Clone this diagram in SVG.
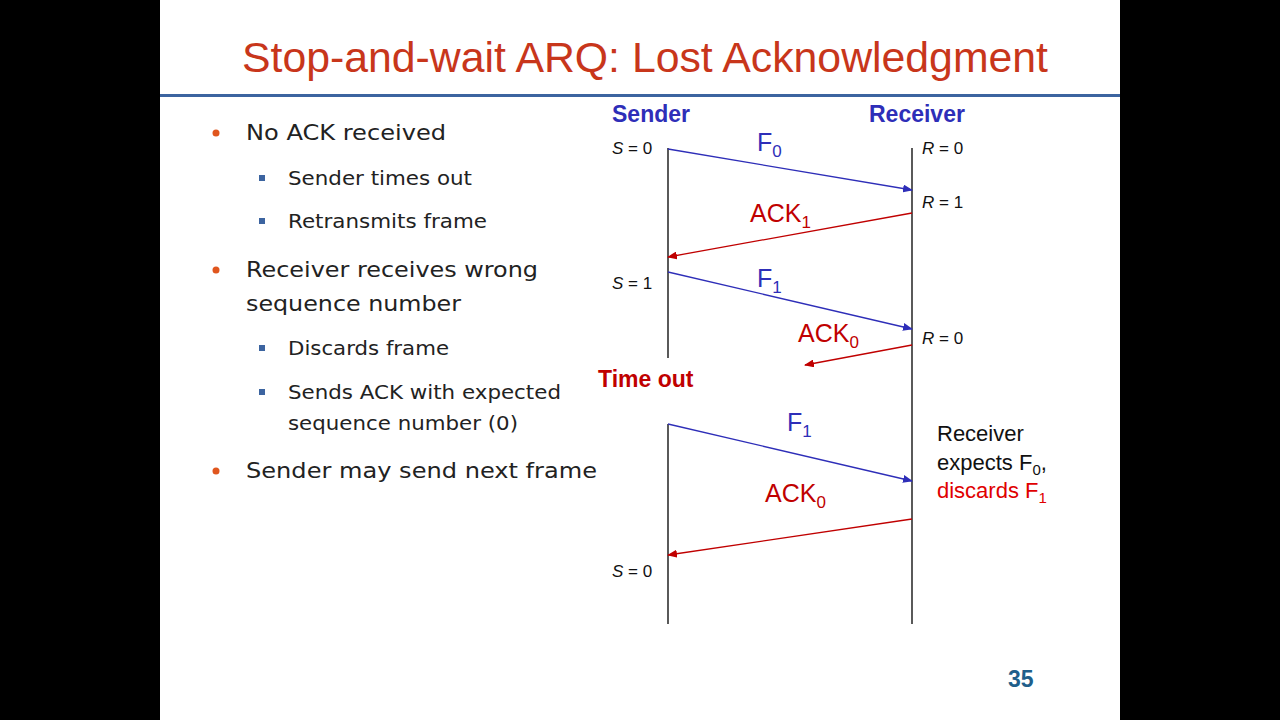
<svg xmlns="http://www.w3.org/2000/svg" width="1280" height="720" viewBox="0 0 1280 720">
<defs>
<marker id="ab" markerWidth="10" markerHeight="8" refX="9" refY="4" orient="auto" markerUnits="userSpaceOnUse"><path d="M0,0 L10,4 L0,8 Z" fill="#2E2EB8"/></marker>
<marker id="ar" markerWidth="10" markerHeight="8" refX="9" refY="4" orient="auto" markerUnits="userSpaceOnUse"><path d="M0,0 L10,4 L0,8 Z" fill="#C00000"/></marker>
</defs>
<style>
text{font-family:"Liberation Sans",Arial,sans-serif}
.b{font-size:22px;fill:#222;font-family:"DejaVu Sans",sans-serif}
.s{font-size:19px;fill:#222;font-family:"DejaVu Sans",sans-serif}
.st{font-size:17px;fill:#111}
.fl{font-size:25px;fill:#2E2EB8}
.al{font-size:25px;fill:#C00000}
.blue{stroke:#2E2EB8;stroke-width:1.3;fill:none}
.red{stroke:#C00000;stroke-width:1.3;fill:none}
</style>
<rect width="1280" height="720" fill="#000"/>
<rect x="160" y="0" width="960" height="720" fill="#fff"/>
<text x="645" y="72" text-anchor="middle" font-size="42" fill="#C8361B" textLength="806" lengthAdjust="spacingAndGlyphs">Stop-and-wait ARQ: Lost Acknowledgment</text>
<rect x="160" y="94" width="960" height="3" fill="#3C64A0"/>
<g id="bullets">
<circle cx="216" cy="133" r="3.5" fill="#E0561E"/>
<text class="b" x="246" y="140" textLength="200" lengthAdjust="spacingAndGlyphs">No ACK received</text>
<rect x="259" y="175" width="6" height="6" fill="#3C64A0"/>
<text class="s" x="288" y="185" textLength="184" lengthAdjust="spacingAndGlyphs">Sender times out</text>
<rect x="259" y="218" width="6" height="6" fill="#3C64A0"/>
<text class="s" x="288" y="228" textLength="199" lengthAdjust="spacingAndGlyphs">Retransmits frame</text>
<circle cx="216" cy="270" r="3.5" fill="#E0561E"/>
<text class="b" x="246" y="277" textLength="292" lengthAdjust="spacingAndGlyphs">Receiver receives wrong</text>
<text class="b" x="246" y="311" textLength="215" lengthAdjust="spacingAndGlyphs">sequence number</text>
<rect x="259" y="345" width="6" height="6" fill="#3C64A0"/>
<text class="s" x="288" y="355" textLength="161" lengthAdjust="spacingAndGlyphs">Discards frame</text>
<rect x="259" y="389" width="6" height="6" fill="#3C64A0"/>
<text class="s" x="288" y="399" textLength="273" lengthAdjust="spacingAndGlyphs">Sends ACK with expected</text>
<text class="s" x="288" y="430" textLength="230" lengthAdjust="spacingAndGlyphs">sequence number (0)</text>
<circle cx="216" cy="471" r="3.5" fill="#E0561E"/>
<text class="b" x="246" y="478" textLength="351" lengthAdjust="spacingAndGlyphs">Sender may send next frame</text>
</g>
<g id="sender">
<text x="612" y="122" font-size="23" font-weight="bold" fill="#2E2EB8">Sender</text>
<line x1="668" y1="148" x2="668" y2="358" stroke="#000" stroke-width="1.3"/>
<line x1="668" y1="424" x2="668" y2="624" stroke="#000" stroke-width="1.3"/>
<text class="st" x="612" y="154"><tspan font-style="italic">S</tspan> = 0</text>
<text class="st" x="612" y="289"><tspan font-style="italic">S</tspan> = 1</text>
<text class="st" x="612" y="577"><tspan font-style="italic">S</tspan> = 0</text>
<text x="598" y="387" font-size="23" font-weight="bold" fill="#C00000">Time out</text>
</g>
<g id="receiver">
<text x="869" y="122" font-size="23" font-weight="bold" fill="#2E2EB8">Receiver</text>
<line x1="912" y1="148" x2="912" y2="624" stroke="#000" stroke-width="1.3"/>
<text class="st" x="922" y="154"><tspan font-style="italic">R</tspan> = 0</text>
<text class="st" x="922" y="208"><tspan font-style="italic">R</tspan> = 1</text>
<text class="st" x="922" y="344"><tspan font-style="italic">R</tspan> = 0</text>
<text x="937" y="441" font-size="22" fill="#111">Receiver</text>
<text x="937" y="470" font-size="22" fill="#111">expects F<tspan font-size="15" dy="5">0</tspan><tspan dy="-5">,</tspan></text>
<text x="937" y="498" font-size="22" fill="#E00000">discards F<tspan font-size="15" dy="5">1</tspan></text>
</g>
<g id="connectors">
<line class="blue" x1="668" y1="149" x2="912" y2="190" marker-end="url(#ab)"/>
<line class="red" x1="912" y1="213" x2="668" y2="257" marker-end="url(#ar)"/>
<line class="blue" x1="668" y1="272" x2="912" y2="329" marker-end="url(#ab)"/>
<line class="red" x1="912" y1="345" x2="805" y2="365" marker-end="url(#ar)"/>
<line class="blue" x1="668" y1="424" x2="912" y2="481" marker-end="url(#ab)"/>
<line class="red" x1="912" y1="519" x2="668" y2="555" marker-end="url(#ar)"/>
<text class="fl" x="757" y="151">F<tspan font-size="17" dy="6">0</tspan></text>
<text class="al" x="750" y="222">ACK<tspan font-size="17" dy="6">1</tspan></text>
<text class="fl" x="757" y="287">F<tspan font-size="17" dy="6">1</tspan></text>
<text class="al" x="798" y="342">ACK<tspan font-size="17" dy="6">0</tspan></text>
<text class="fl" x="787" y="431">F<tspan font-size="17" dy="6">1</tspan></text>
<text class="al" x="765" y="502">ACK<tspan font-size="17" dy="6">0</tspan></text>
</g>
<text x="1008" y="687" font-size="23" font-weight="bold" fill="#1F5F8B">35</text>
</svg>
